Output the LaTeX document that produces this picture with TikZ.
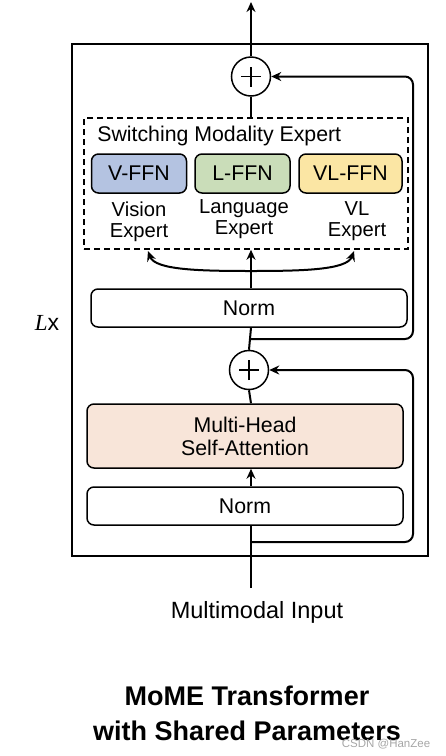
\documentclass[tikz,border=0pt]{standalone}
\usepackage{fontspec}
\setmainfont{Liberation Sans}
\usetikzlibrary{arrows.meta}
\definecolor{vffn}{HTML}{B4C3E1}
\definecolor{lffn}{HTML}{CADDB9}
\definecolor{vlffn}{HTML}{FBE6A4}
\definecolor{attn}{HTML}{F8E5D9}
\tikzset{%
    blk/.style={draw, rounded corners=7pt, line width=1.5pt, inner sep=0pt, minimum height=38pt, font=\fontsize{21.3}{23}\selectfont},
    ffn/.style={blk, minimum width=95pt, minimum height=39pt},
    sum/.style={draw, circle, line width=1.5pt, inner sep=0pt, minimum size=39pt,
        path picture={\draw [line width=1.6pt] ([xshift=-10pt]path picture bounding box.center) -- ([xshift=10pt]path picture bounding box.center)
            ([yshift=-10pt]path picture bounding box.center) -- ([yshift=10pt]path picture bounding box.center);}},
    lbl/.style={align=center, font=\fontsize{20.2}{21}\selectfont},
    pri/.style={line width=2pt},
    pra/.style={line width=2pt, -{Stealth[length=10pt,width=9pt]}}
}

\begin{document}
\begin{tikzpicture}[x=1pt,y=-1pt,line width=2pt]
    \useasboundingbox (0,0) rectangle (446,756);
    % outer block
    \draw [pri] (72,44) rectangle (428,556);
    \node [font=\fontsize{23}{24}\selectfont] (lx) at (47,323) {{\fontspec{Liberation Serif}\itshape L}x};
    % sums
    \node [sum] (s2) at (251,76.5) {};
    \node [sum] (s1) at (249,370) {};
    % expert block
    \node [draw, dashed, line width=1.5pt, dash pattern=on 6pt off 4pt, minimum width=324pt, minimum height=131pt, inner sep=0pt] (sme) at (246,183.5) {};
    \node [anchor=west, font=\fontsize{21.3}{23}\selectfont] (smet) at (93,136) {Switching Modality Expert};
    \node [ffn, fill=vffn] (v) at (139,173.5) {V-FFN};
    \node [ffn, fill=lffn] (l) at (242.5,173.5) {L-FFN};
    \node [ffn, fill=vlffn, minimum width=103pt] (vl) at (350.5,173.5) {VL-FFN};
    \node [lbl] (vt) at (139,221.5) {Vision\\Expert};
    \node [lbl] (lt) at (244,219.5) {Language\\Expert};
    \node [lbl] (vlt) at (357,221.5) {VL\\Expert};
    % lower layers
    \node [blk, minimum width=316pt] (n1) at (249,308) {Norm};
    \node [blk, fill=attn, minimum width=316pt, minimum height=64pt, align=center] (mha) at (245,436) {Multi-Head\\Self-Attention};
    \node [blk, minimum width=316pt] (n2) at (245,506) {Norm};
    \node [font=\fontsize{23.5}{25}\selectfont] (inp) at (257,612) {Multimodal Input};
    \node [font=\bfseries\fontsize{27}{35}\selectfont, align=center] (ttl) at (247,713) {MoME Transformer\\with Shared Parameters};
    \node [font=\fontsize{11.5}{12}\selectfont, text=gray!70] (wm) at (386,744) {CSDN @HanZee};
    % coordinates
    \coordinate (out) at (251,2);
    \coordinate (in) at (251,588);
    \coordinate (fork) at (251,271);
    \coordinate (vtip) at (148,251);
    \coordinate (vltip) at (354,251);
    \coordinate (r1) at (251,339);
    \coordinate (r2) at (251,542);
    % main path
    \draw [pri] (in) -- (in |- n2.south);
    \draw [pra] (in |- n2.north) -- (in |- mha.south);
    \draw [pri] (in |- mha.north) -- (s1.south);
    \draw [pri] (s1.north) -- (in |- n1.south);
    \draw [pra] (in |- n1.north) -- (in |- sme.south);
    \draw [pra] (fork) .. controls (200,271) and (155,270) .. (vtip);
    \draw [pra] (fork) .. controls (302,271) and (347,270) .. (vltip);
    \draw [pri] (s2.south) -- (s2.south |- sme.north);
    \draw [pra] (s2.north) -- (out);
    % residuals
    \draw [pra, rounded corners=8pt] (r1) -- ++(162,0) |- (s2.east);
    \draw [pra, rounded corners=8pt] (r2) -- ++(162,0) |- (s1.east);
\end{tikzpicture}
\end{document}
